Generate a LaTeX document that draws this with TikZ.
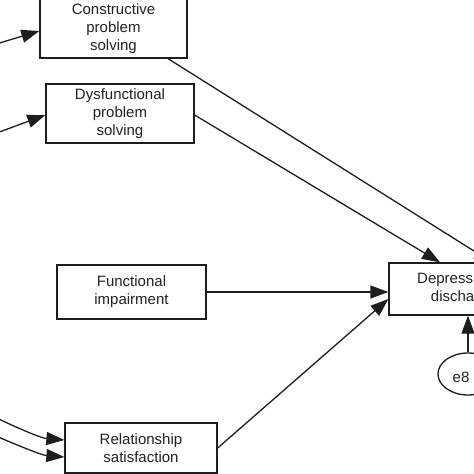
\documentclass[tikz,border=0pt]{standalone}
\usepackage{fontspec}
\setmainfont{Liberation Sans}
\usetikzlibrary{arrows.meta,shapes.geometric,calc}
\definecolor{ink}{HTML}{1E1E1E}
\definecolor{txt}{HTML}{222222}
\begin{document}
\begin{tikzpicture}[x=1pt,y=-1pt,
  varbox/.style={draw=ink,line width=1.3pt,rectangle,align=center,text=txt,
    font=\fontsize{15}{18}\selectfont,inner sep=0pt},
  errnode/.style={draw=ink,line width=1.3pt,ellipse,minimum width=60pt,minimum height=42pt,inner sep=0pt},
  lbl/.style={text=txt,font=\fontsize{15}{18}\selectfont,inner sep=0pt},
  path/.style={draw=ink,line width=1.3pt,-{Triangle[length=18pt,width=13pt]}}]
\useasboundingbox (0,0) rectangle (474,474);
\clip (0,0) rectangle (474,474);
\fill[white] (0,0) rectangle (474,474);
\node[varbox,minimum width=147pt,minimum height=59pt] (cons) at (113.5,28.5) {Constructive\\problem\\solving};
\node[varbox,minimum width=148pt,minimum height=59pt] (dys) at (120,113.5) {Dysfunctional\\problem\\solving};
\node[varbox,minimum width=149pt,minimum height=54pt] (func) at (131.5,292) {Functional\\impairment};
\node[varbox,minimum width=152pt,minimum height=50pt] (rel) at (141,448) {Relationship\\satisfaction};
\node[varbox,minimum width=149pt,minimum height=52pt] (dep) at (463.5,289) {Depression at\\discharge};
\node[errnode] (e8) at (468,374) {};
\node[lbl] (e8lab) at (461,377) {e8};
\coordinate (inC) at (-60,61);
\coordinate (inD) at (-60,154);
\coordinate (inR1) at (-30,405);
\coordinate (inR2) at (-30,425);
\draw[path] (inC) -- ([yshift=-2.5pt]cons.west);
\draw[path] (inD) -- ([yshift=-1.5pt]dys.west);
\draw[path] (inR1) .. controls (10,425) and (40,438) .. ([yshift=8pt]rel.west);
\draw[path] (inR2) .. controls (10,442) and (40,455) .. ([yshift=-9pt]rel.west);
\draw[path] ([xshift=54.5pt]cons.south) -- ([xshift=28.5pt]dep.north);
\draw[path] ([yshift=-1.5pt]dys.east) -- ([xshift=-23.5pt]dep.north);
\draw[path] (func.east) -- (func.east -| dep.west);
\draw[path] (rel.east) -- ([yshift=-10pt]dep.west);
\draw[path] (e8.north) -- (e8.north |- dep.south);
\end{tikzpicture}
\end{document}
